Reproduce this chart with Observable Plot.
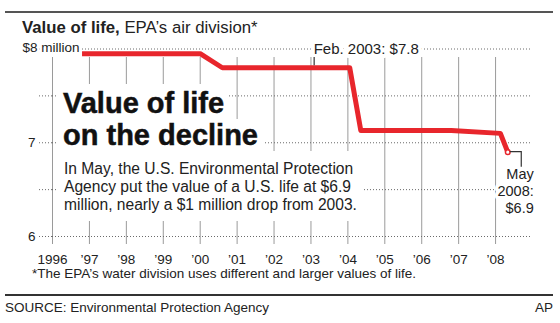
<!DOCTYPE html>
<html>
<head>
<meta charset="utf-8">
<script src="https://cdn.jsdelivr.net/npm/d3@7"></script>
<script src="https://cdn.jsdelivr.net/npm/@observablehq/plot@0.6"></script>
<style>
html, body { margin: 0; padding: 0; background: #fff; }
#wrap { position: relative; width: 560px; height: 323px; overflow: hidden;
  font-family: "Liberation Sans", Arial, Helvetica, sans-serif; color: #222; }
#wrap > svg { position: absolute; left: 0; top: 0; }
.rule { position: absolute; left: 5px; width: 548px; }
#title { position: absolute; left: 22px; top: 20.2px; font-size: 16.75px; line-height: 16px; white-space: nowrap; }
#ann { position: absolute; left: 57px; top: 84px; }
.big { width: fit-content; background: #fff; font-weight: bold; font-size: 29px; line-height: 32px;
  padding: 0 5px 0 6px; white-space: nowrap; -webkit-text-stroke: 0.5px #111; color: #111; }
.big.first { padding-top: 3px; }
.para { width: fit-content; background: #fff; font-size: 15.6px; line-height: 18px;
  padding: 9px 5px 7px 7px; white-space: nowrap; }
#foot { position: absolute; left: 32px; top: 267px; font-size: 13.5px; line-height: 14px; white-space: nowrap; }
#source { position: absolute; left: 5px; top: 301.3px; font-size: 13.5px; line-height: 14px; white-space: nowrap; }
#credit { position: absolute; right: 7px; top: 301.3px; font-size: 13.5px; line-height: 14px; }
</style>
</head>
<body>
<div id="wrap"></div>
<script>
// ---- data ----
const years = [1996, 1997, 1998, 1999, 2000, 2001, 2002, 2003, 2004, 2005, 2006, 2007, 2008];
const yearLabels = ["1996", "’97", "’98", "’99", "’00", "’01", "’02", "’03", "’04", "’05", "’06", "’07", "’08"];
const yTicks = [6, 6.5, 7, 7.5, 8];
const yTickLabels = ["6", "", "7", "", ""];
const topTickLabel = "$8 million";
const lineDates = [1996.8, 2000.0, 2000.6, 2003.1, 2004.05, 2004.35, 2006.8, 2008.13, 2008.33];
const lineValues = [7.95, 7.95, 7.8, 7.8, 7.8, 7.13, 7.13, 7.1, 6.9];
const febNote = {date: 2003.1, value: 7.8, label: "Feb. 2003: $7.8"};
const mayNote = {date: 2008.33, value: 6.9, label: "May\n2008:\n$6.9"};
const titleBold = "Value of life,";
const titleRest = " EPA’s air division*";
const headline = ["Value of life", "on the decline"];
const paragraph = ["In May, the U.S. Environmental Protection",
  "Agency put the value of a U.S. life at $6.9",
  "million, nearly a $1 million drop from 2003."];
const footnote = "*The EPA’s water division uses different and larger values of life.";
const source = "SOURCE: Environmental Protection Agency";
const credit = "AP";

// ---- build ----
const series = lineDates.map((d, i) => ({date: d, value: lineValues[i]}));
const red = "#e8262c";
const ink = "#222";
const font = "'Liberation Sans', Arial, Helvetica, sans-serif";

const chart = Plot.plot({
  width: 560,
  height: 270,
  marginLeft: 52,
  marginRight: 28,
  marginTop: 57,
  marginBottom: 26,
  style: {fontFamily: font, fontSize: "13.5px", color: ink, background: "transparent", overflow: "visible"},
  x: {domain: [1996, 2009]},
  y: {domain: [6, 8], range: [236, 48.5]},
  marks: [
    Plot.gridX(years, {stroke: "#9a9a9a", strokeOpacity: 1, strokeWidth: 1}),
    Plot.gridY(yTicks, {stroke: "#6a6a6a", strokeOpacity: 1, strokeWidth: 1, strokeDasharray: "1,2"}),
    Plot.axisY(yTicks, {tickSize: 14, tickPadding: 3, label: null, stroke: "#6a6a6a", strokeDasharray: "1,2",
      tickFormat: (d) => yTickLabels[yTicks.indexOf(d)], fontSize: 13.5}),
    Plot.axisX(years, {tickSize: 0, tickPadding: 10, label: null,
      tickFormat: (d) => yearLabels[years.indexOf(d)], fontSize: 13.5}),
    Plot.text([{x: years[0], y: yTicks[yTicks.length - 1], t: topTickLabel}], {
      x: "x", y: "y", text: "t", textAnchor: "start", lineAnchor: "middle", dx: -30, dy: -1.5,
      fontSize: 13.5, fill: ink, stroke: "white", strokeWidth: 5, paintOrder: "stroke"}),
    Plot.line(series, {x: "date", y: "value", stroke: red, strokeWidth: 5, strokeLinejoin: "round", strokeLinecap: "butt"}),
    Plot.text([febNote], {x: "date", y: () => yTicks[yTicks.length - 1], text: "label", textAnchor: "start",
      lineAnchor: "middle", dx: -1, dy: 0.5, fontSize: 15, fill: ink, stroke: "white", strokeWidth: 8, paintOrder: "stroke"}),
    Plot.dot([mayNote], {x: "date", y: "value", r: 2.3, fill: "white", stroke: red, strokeWidth: 1.5}),
    Plot.text([mayNote], {x: "date", y: "value", text: "label", textAnchor: "end", lineAnchor: "top",
      dx: 26, dy: 15.5, fontSize: 14.5, lineHeight: 1.15, fill: ink, stroke: "white", strokeWidth: 7, paintOrder: "stroke"})
  ]
});

// leader lines drawn from the chart's own scales
const xs = chart.scale("x"), ys = chart.scale("y");
const svg = d3.select(chart);
const fx = xs.apply(febNote.date), fy = ys.apply(febNote.value);
svg.append("path")
  .attr("d", `M${fx},${ys.apply(yTicks[yTicks.length - 1]) + 8.5}V${fy - 2}`)
  .attr("stroke", "#333").attr("stroke-width", 1.2).attr("fill", "none");
const mx = xs.apply(mayNote.date), my = ys.apply(mayNote.value);
svg.append("path")
  .attr("d", `M${mx + 2.5},${my}H${mx + 14}V${my + 15}`)
  .attr("stroke", "#333").attr("stroke-width", 1.2).attr("fill", "none");

const wrap = document.getElementById("wrap");
wrap.appendChild(chart);

const html = `
  <div class="rule" style="top:11px;height:2px;background:#555"></div>
  <div id="title"><b>${titleBold}</b>${titleRest}</div>
  <div id="ann">
    <div class="big first">${headline[0]}</div>
    <div class="big">${headline[1]}</div>
    <div class="para">${paragraph.join("<br>")}</div>
  </div>
  <div id="foot">${footnote}</div>
  <div class="rule" style="top:294px;height:2px;background:#333"></div>
  <div id="source">${source}</div>
  <div id="credit">${credit}</div>`;
wrap.insertAdjacentHTML("beforeend", html);
</script>
</body>
</html>
